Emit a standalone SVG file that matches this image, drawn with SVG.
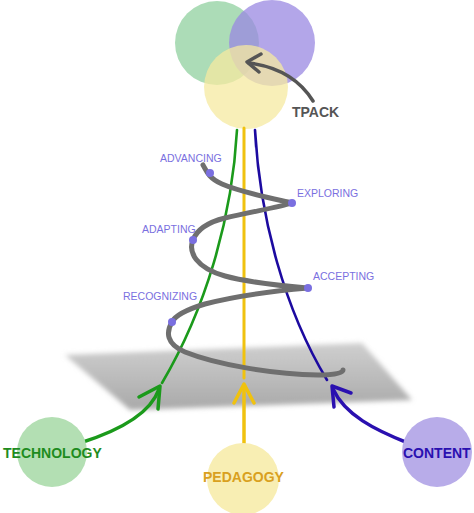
<svg xmlns="http://www.w3.org/2000/svg" width="474" height="513" viewBox="0 0 474 513">
<defs>
<style>
.lbl{font-family:"Liberation Sans",Arial,sans-serif;font-weight:bold;font-size:14px}
.stage{font-family:"Liberation Sans",Arial,sans-serif;font-size:10.5px;fill:#7a6fe0}
.dot{fill:#7a6fe0}
.ln{fill:none;stroke-linecap:round;stroke-linejoin:round}
</style>
<linearGradient id="pg" x1="0" y1="0" x2="0" y2="1">
<stop offset="0" stop-color="#cfcfcf"/>
<stop offset="1" stop-color="#a9a9a9"/>
</linearGradient>
<filter id="blur" x="-10%" y="-20%" width="120%" height="140%"><feGaussianBlur stdDeviation="2.5"/></filter>
</defs>
<rect width="474" height="513" fill="#fff"/>

<g id="plane">
<polygon points="65,355 362,343 412,400 130,410" fill="url(#pg)" filter="url(#blur)"/>
</g>

<g id="tpack">
<circle cx="217" cy="43" r="42" fill="#9ed6aa" fill-opacity="0.85"/>
<circle cx="272" cy="43" r="43" fill="#9a88e2" fill-opacity="0.75"/>
<circle cx="246" cy="87" r="42" fill="#f6e9a0" fill-opacity="0.75"/>
<text class="lbl" x="292" y="117" fill="#555">TPACK</text>
</g>

<g id="connectors">
<path class="ln" d="M237,130 C232,220 205,310 162,383" stroke="#1b9a1b" stroke-width="2.6"/>
<path class="ln" d="M244,128 L244,378" stroke="#f0c20f" stroke-width="3"/>
<path class="ln" d="M255,130 C260,220 285,310 327,380" stroke="#1c0aa0" stroke-width="2.6"/>
<path class="ln" d="M313,101 C300,80 280,67 249,63" stroke="#555" stroke-width="3.5"/>
<polyline class="ln" points="261,54 247,62 259,72" stroke="#555" stroke-width="3.5"/>
<path class="ln" d="M80,443 C115,432 150,415 159,389" stroke="#1b9a1b" stroke-width="3.5"/>
<polyline class="ln" points="139,397 160,386 158,409" stroke="#1b9a1b" stroke-width="3.5"/>
<path class="ln" d="M244,460 L244,386" stroke="#f0c20f" stroke-width="3.5"/>
<polyline class="ln" points="234,403 244,384 254,403" stroke="#f0c20f" stroke-width="3.5"/>
<path class="ln" d="M408,443 C375,430 345,415 333,389" stroke="#2a10b0" stroke-width="3.5"/>
<polyline class="ln" points="351,393 332,386 334,407" stroke="#2a10b0" stroke-width="3.5"/>
</g>

<g id="spiral">
<path class="ln" stroke="#6f6f6f" stroke-width="5" d="M203,165 C206,170 208,178 222,184 C240,192 270,198 292,203 C280,207 250,212 225,218 C205,223 196,232 193,240 C188,252 196,268 225,276 C250,283 285,286 308,288 C285,290 240,295 205,304 C185,310 175,316 172,322 C166,332 166,344 185,352 C215,364 270,374 318,375 C335,375 343,373 343,370"/>
</g>

<g id="stages">
<circle class="dot" cx="210" cy="173" r="4"/>
<circle class="dot" cx="292" cy="203" r="4"/>
<circle class="dot" cx="193" cy="240" r="4"/>
<circle class="dot" cx="308" cy="288" r="4"/>
<circle class="dot" cx="172" cy="322" r="4"/>
<text class="stage" x="160" y="162">ADVANCING</text>
<text class="stage" x="297" y="197">EXPLORING</text>
<text class="stage" x="142" y="233">ADAPTING</text>
<text class="stage" x="313" y="280">ACCEPTING</text>
<text class="stage" x="123" y="300">RECOGNIZING</text>
</g>

<g id="technology">
<circle cx="52" cy="452" r="35" fill="#b3dfb3"/>
<text class="lbl" x="3" y="458" fill="#1e8c1e">TECHNOLOGY</text>
</g>
<g id="pedagogy">
<circle cx="243" cy="479" r="36" fill="#f8eeb3"/>
<text class="lbl" x="203" y="482" fill="#d9a020">PEDAGOGY</text>
</g>
<g id="content">
<circle cx="437" cy="452" r="35" fill="#b8ace9"/>
<text class="lbl" x="403" y="458" fill="#2a10b0">CONTENT</text>
</g>
</svg>
